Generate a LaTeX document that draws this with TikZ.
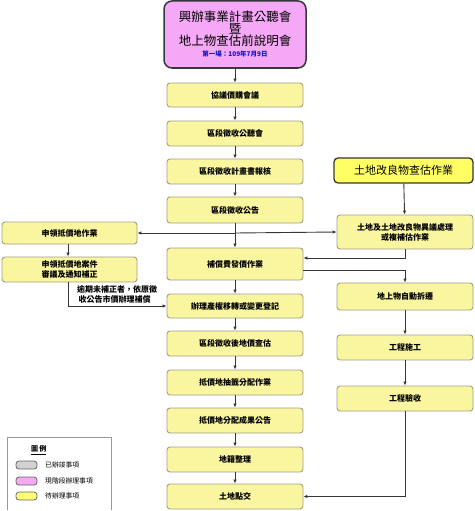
\documentclass[tikz,border=0pt]{standalone}
\usepackage{fontspec}
\setmainfont{Noto Sans CJK TC}
\usetikzlibrary{arrows.meta}
\definecolor{yfill}{RGB}{250,246,160}
\definecolor{yedge}{RGB}{160,158,130}
\definecolor{pfill}{RGB}{245,168,245}
\definecolor{brightY}{RGB}{255,255,100}
\definecolor{lineC}{RGB}{55,55,55}
\definecolor{gfill}{RGB}{210,210,210}
\definecolor{dateblue}{RGB}{20,20,200}
\tikzset{
  box/.style={draw=yedge, fill=yfill, line width=0.9pt, rounded corners=3pt, minimum width=136pt, align=center, inner sep=1pt, font=\fontsize{8}{10}\selectfont\bfseries},
  arr/.style={draw=lineC, line width=0.9pt, -{Latex[length=4pt,width=3.5pt]}},
  ln/.style={draw=lineC, line width=0.9pt},
  swatch/.style={draw=gray!80!black, line width=0.8pt, rounded corners=3pt},
  legtext/.style={anchor=west, font=\fontsize{6.8}{8}\selectfont, inner sep=0pt}
}
\begin{document}
\begin{tikzpicture}[x=1pt,y=-1pt]
\useasboundingbox (0,0) rectangle (474,511);
% top pink box
\node[draw=lineC, line width=1.5pt, fill=pfill, rounded corners=8pt, minimum width=142pt, minimum height=67pt, align=center, inner sep=0pt] (top) at (235,34.5)
  {\fontsize{12.5}{14.5}\selectfont 興辦事業計畫公聽會\\ \fontsize{12.5}{14.5}\selectfont 暨\\ \fontsize{12.5}{15}\selectfont 地上物查估前說明會\\[-1pt] \fontsize{6.5}{8}\selectfont\bfseries\color{dateblue} 第一場：109年7月9日};
% centre column
\node[box, minimum height=24pt] (A1) at (235,95) {協議價購會議};
\node[box, minimum height=25pt] (A2) at (235,133.5) {區段徵收公聽會};
\node[box, minimum height=25pt] (A3) at (235,171.5) {區段徵收計畫書報核};
\node[box, minimum height=26pt] (A4) at (235,210) {區段徵收公告};
\node[box, minimum height=32pt] (A5) at (235,264) {補償費發價作業};
\node[box, minimum height=24pt] (A6) at (235,306) {辦理產權移轉或變更登記};
\node[box, minimum height=25pt] (A7) at (235,343.5) {區段徵收後地價查估};
\node[box, minimum height=25pt] (A8) at (235,382.5) {抵價地抽籤分配作業};
\node[box, minimum height=25pt] (A9) at (235,420.5) {抵價地分配成果公告};
\node[box, minimum height=25pt] (A10) at (235,459.5) {地籍整理};
\node[box, minimum height=25pt] (A11) at (235,496.5) {土地點交};
% left column
\node[box, minimum width=135pt, minimum height=22pt] (L1) at (69.5,233) {申領抵價地作業};
\node[box, minimum width=135pt, minimum height=25pt] (L2) at (69.5,269.5) {申領抵價地案件\\審議及通知補正};
% right column
\node[draw=lineC, line width=1.3pt, fill=brightY, rounded corners=4pt, minimum width=139pt, minimum height=25pt, inner sep=0pt, font=\fontsize{11}{13}\selectfont] (R0) at (403.5,170.5) {土地改良物查估作業};
\node[box, minimum width=136pt, minimum height=34pt] (R1) at (405,232) {土地及土地改良物異議處理\\或複補估作業};
\node[box, minimum width=136pt, minimum height=27pt] (R2) at (405,296.5) {地上物自動拆遷};
\node[box, minimum width=136pt, minimum height=25pt] (R3) at (405,347.5) {工程施工};
\node[box, minimum width=136pt, minimum height=25pt] (R4) at (405,398.5) {工程驗收};
% helper coordinates
\coordinate (j) at (235,233);
\coordinate (yin) at (0,258);
\coordinate (yout) at (0,270);
\coordinate (ylow) at (0,306);
\coordinate (ybot) at (0,496.5);
% connectors centre
\draw[arr] (top) -- (A1);
\draw[arr] (A1) -- (A2);
\draw[arr] (A2) -- (A3);
\draw[arr] (A3) -- (A4);
\draw[arr] (A4) -- (A5);
\draw[arr] (A5) -- (A6);
\draw[arr] (A6) -- (A7);
\draw[arr] (A7) -- (A8);
\draw[arr] (A8) -- (A9);
\draw[arr] (A9) -- (A10);
\draw[arr] (A10) -- (A11);
\draw[arr] (j) -- (L1.east);
\draw[arr] (j) -- (R1.west);
% left
\draw[arr] (L1.south -| 68,0) -- (L2.north -| 68,0);
\draw[arr] (L2.south -| 68,0) |- (A6.west);
\node[anchor=north west, align=left, inner sep=0pt, font=\fontsize{8}{10.5}\selectfont\bfseries] (lbl) at (77,285) {逾期未補正者，依原徵\\\,收公告市價辦理補償};
% right
\draw[arr] (R0) -- (R1);
\draw[arr] (R1.south) |- (A5.east |- yin);
\draw[arr] (A5.east |- yout) -| (R2.north);
\draw[arr] (R2) -- (R3);
\draw[arr] (R3) -- (R4);
\draw[arr] (R4.south) |- (A11.east |- ybot);
% legend
\draw[gray!80, line width=1pt] (7,510) -- (7,437) -- (111,437) -- (111,510);
\node[anchor=west, inner sep=0pt, font=\fontsize{7}{8}\selectfont\bfseries] (legt) at (31,450) {\underline{圖\,例}};
\draw[swatch, fill=gfill] (16,461) rectangle (37,469);
\draw[swatch, fill=pfill] (16,477) rectangle (37,485);
\draw[swatch, fill=brightY!70!yfill] (16,492) rectangle (37,500);
\node[legtext] (lg1) at (45,465) {已辦竣事項};
\node[legtext] (lg2) at (45,481) {現階段辦理事項};
\node[legtext] (lg3) at (45,496) {待辦理事項};
\end{tikzpicture}
\end{document}
